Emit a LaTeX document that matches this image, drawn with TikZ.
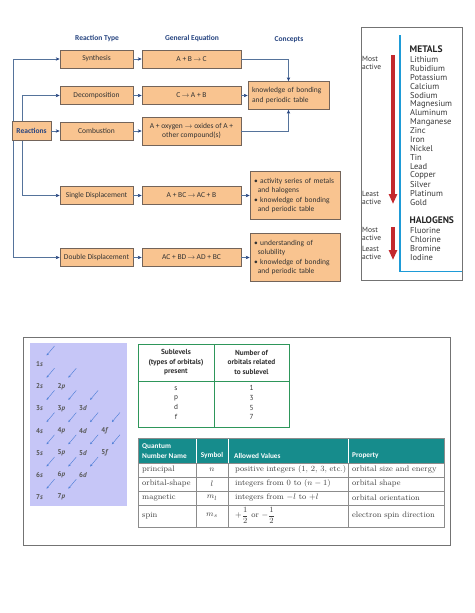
\documentclass[tikz,border=0pt]{standalone}
\usepackage{amsmath}
\usepackage{fontspec}
\setsansfont{PT Sans}
\newfontfamily\flowfont{Carlito}
\usetikzlibrary{arrows.meta,calc,positioning}
\definecolor{rxpeach}{RGB}{249,196,144}
\definecolor{rxedge}{RGB}{115,100,90}
\definecolor{rxline}{RGB}{85,115,155}
\definecolor{rxhead}{RGB}{38,68,128}
\definecolor{actred}{RGB}{196,40,45}
\definecolor{actblue}{RGB}{30,155,215}
\definecolor{orblav}{RGB}{198,198,247}
\definecolor{orbarrow}{RGB}{80,128,215}
\definecolor{tabgreen}{RGB}{46,150,90}
\definecolor{tabteal}{RGB}{22,140,140}
\tikzset{
  rxbox/.style={draw=rxedge,fill=rxpeach,line width=.6pt,inner sep=0pt,align=center,
    text=black!80,font=\flowfont\fontsize{7.5}{9.5}\selectfont},
  typebox/.style={rxbox,minimum width=73pt,minimum height=18pt},
  eqbox/.style={rxbox,minimum width=99pt,minimum height=18pt},
  conbox/.style={rxbox,align=left,inner xsep=4pt},
  rxhd/.style={font=\flowfont\bfseries\fontsize{7.5}{9}\selectfont,text=rxhead},
  rxarr/.style={draw=rxline,line width=.6pt,-{Stealth[length=4pt,width=3.4pt,color=rxhead]}},
  panelframe/.style={draw=black!55,line width=.7pt},
  actarr/.style={draw=actred,line width=3.2pt,-{Triangle[length=10pt,width=8pt]}},
  actlbl/.style={anchor=west,align=left,inner sep=0pt,text=black!80,
    font=\sffamily\fontsize{7.5}{7.9}\selectfont},
  metal/.style={anchor=west,inner sep=0pt,text=black!78,font=\sffamily\fontsize{8.5}{9}\selectfont},
  metalhd/.style={anchor=west,inner sep=0pt,text=black!85,font=\sffamily\bfseries\fontsize{9.5}{10}\selectfont},
  orb/.style={inner sep=0pt,text=black!65,font=\sffamily\bfseries\fontsize{7}{8}\selectfont},
  orbarr/.style={draw=orbarrow,line width=.45pt,-{Stealth[length=2.5pt,width=2.1pt]}},
  subtxt/.style={align=center,inner sep=0pt,text=black!80,font=\sffamily\fontsize{7.3}{9.7}\selectfont},
  qhd/.style={anchor=west,align=left,inner sep=0pt,text=white,font=\flowfont\bfseries\fontsize{7.3}{10}\selectfont},
  qtxt/.style={anchor=west,inner sep=0pt,text=black!75,font=\fontsize{8}{9}\selectfont}
}
\begin{document}
\begin{tikzpicture}[x=1pt,y=-1pt]
  \useasboundingbox[fill=white] (0,0) rectangle (474,613);
  \node[rxhd] (hdtype) at (97,38) {Reaction Type};
  \node[rxhd] (hdeq) at (192,38) {General Equation};
  \node[rxhd] (hdcon) at (289,40) {Concepts};
  \node[typebox] (syn) at (96.5,59) {Synthesis};
  \node[typebox] (dec) at (96.5,95.5) {Decomposition};
  \node[typebox] (com) at (96.5,131) {Combustion};
  \node[typebox] (sgl) at (96.5,195.5) {Single Displacement};
  \node[typebox] (dbl) at (96.5,257.5) {Double Displacement};
  \node[eqbox] (syneq) at (191.5,59) {A + B\,$\rightarrow$\,C};
  \node[eqbox] (deceq) at (191.5,95.5) {C\,$\rightarrow$\,A + B};
  \node[eqbox,minimum height=28pt] (comeq) at (191.5,131) {A + oxygen $\rightarrow$ oxides of A +\\other compound(s)};
  \node[eqbox] (sgleq) at (191.5,195.5) {A + BC\,$\rightarrow$\,AC + B};
  \node[eqbox] (dbleq) at (191.5,257.5) {AC + BD\,$\rightarrow$\,AD + BC};
  \node[conbox,text width=73pt,minimum height=28pt] (con1) at (288.5,95.5) {knowledge of bonding\\and periodic table};
  \node[conbox,text width=82pt,minimum height=48pt] (con2) at (295,195.5)
    {\textbullet\ activity series of metals\\\hspace*{.5em}and halogens\\\textbullet\ knowledge of bonding\\\hspace*{.5em}and periodic table};
  \node[conbox,text width=82pt,minimum height=48pt] (con3) at (295,257.5)
    {\textbullet\ understanding of\\\hspace*{.5em}solubility\\\textbullet\ knowledge of bonding\\\hspace*{.5em}and periodic table};
  \node[rxbox,minimum width=39pt,minimum height=19pt,text=rxhead,font=\flowfont\bfseries\fontsize{7.5}{9}\selectfont] (reac) at (31.5,131) {Reactions};
  \coordinate (outx) at (13,0);
  \coordinate (inx) at (22,0);
  \draw[rxarr] (reac.north -| outx) |- (syn.west);
  \draw[rxarr] (reac.south -| outx) |- (dbl.west);
  \draw[rxarr] (reac.north -| inx) |- (dec.west);
  \draw[rxarr] (reac.south -| inx) |- (sgl.west);
  \draw[rxarr] (reac) -- (com);
  \foreach \a in {syn,dec,com,sgl,dbl} \draw[rxarr] (\a) -- (\a eq);
  \draw[rxarr] (syneq.east) -| (con1.north);
  \draw[rxarr] (comeq.east) -| (con1.south);
  \draw[rxarr] (deceq) -- (con1);
  \draw[rxarr] (sgleq) -- (con2);
  \draw[rxarr] (dbleq) -- (con3);

  \draw[panelframe] (361,27) rectangle (462,280);
  \draw[actblue,line width=1.3pt] (400,35) |- (462,271.5);
  \draw[actarr] (393,55) -- (393,204);
  \draw[actarr] (393,227) -- (393,260);
  \node[actlbl] (most1) at (362,62.7) {Most\\active};
  \node[actlbl] (least1) at (362,198) {Least\\active};
  \node[actlbl] (most2) at (362,234.2) {Most\\active};
  \node[actlbl] (least2) at (362,252.5) {Least\\active};
  \node[metalhd] (metals) at (409.5,49.5) {METALS};
  \foreach \m [count=\i from 0] in {Lithium,Rubidium,Potassium,Calcium,Sodium,Magnesium,Aluminum,Manganese,Zinc,Iron,Nickel,Tin,Lead,Copper,Silver,Platinum,Gold}
    \node[metal] (m\i) at (410,59.3+8.95*\i) {\m};
  \node[metalhd] (halo) at (409.5,220) {HALOGENS};
  \foreach \h [count=\i from 0] in {Fluorine,Chlorine,Bromine,Iodine}
    \node[metal] (h\i) at (410,230.7+8.9*\i) {\h};

  \draw[panelframe] (23,337) rectangle (450,545);
  \fill[orblav] (30,343) rectangle (127,506);
  \foreach \n/\lst in {1/{s},2/{s,p},3/{s,p,d},4/{s,p,d,f},5/{s,p,d,f},6/{s,p,d},7/{s,p}}
    \foreach \l [count=\c from 0] in \lst {
      \node[orb] (o\n\l) at (39.5+21.8*\c,364+22.2*\n-22.2) {\n\textit{\l}};
      \draw[orbarr] ($(o\n\l)+(15,-18)$) -- ($(o\n\l)+(7,-8.5)$);
    }

  \draw[tabgreen,line width=1pt] (138,344) rectangle (289,427) (214,344) -- (214,427) (138,381) -- (289,381);
  \node[subtxt,font=\sffamily\bfseries\fontsize{7.3}{9.7}\selectfont] (subhd) at (176,362.3) {Sublevels\\(types of orbitals)\\present};
  \node[subtxt,font=\sffamily\bfseries\fontsize{7.3}{9.7}\selectfont] (numhd) at (251.5,362.3) {Number of\\orbitals related\\to sublevel};
  \node[subtxt] (subs) at (176,402.7) {s\\p\\d\\f};
  \node[subtxt] (nums) at (251.5,402.7) {1\\3\\5\\7};

  \fill[tabteal] (138,438) rectangle (444,463);
  \draw[white,line width=.5pt] (196,438) -- (196,463) (228,438) -- (228,463) (348,438) -- (348,463);
  \draw[black!45,line width=.6pt] (138,438) rectangle (444,527)
    (138,463) -- (444,463) (138,477) -- (444,477) (138,491) -- (444,491) (138,505) -- (444,505)
    (196,463) -- (196,527) (228,463) -- (228,527) (348,463) -- (348,527);
  \node[qhd] (qname) at (142,450.7) {Quantum\\Number Name};
  \node[qhd,anchor=center] (qsym) at (212,455.7) {Symbol};
  \node[qhd] (qval) at (234,455.7) {Allowed Values};
  \node[qhd] (qprop) at (352,455.7) {Property};
  \foreach \nm/\sy/\va/\pr/\y [count=\r] in {principal/$n$/{positive integers (1, 2, 3, etc.)}/orbital size and energy/469.8,
      orbital-shape/$l$/{integers from 0 to ($n-1$)}/orbital shape/483.8,
      magnetic/$m_l$/{integers from $-l$ to $+l$}/orbital orientation/497.8,
      spin/$m_s$/{$+\dfrac{1}{2}$ or $-\dfrac{1}{2}$}/electron spin direction/515.5} {
    \node[qtxt] (qn\r) at (142,\y) {\nm};
    \node[qtxt,anchor=center] (qs\r) at (212,\y) {\sy};
    \node[qtxt] (qv\r) at (235,\y) {\va};
    \node[qtxt] (qp\r) at (352,\y) {\pr};
  }
\end{tikzpicture}
\end{document}
